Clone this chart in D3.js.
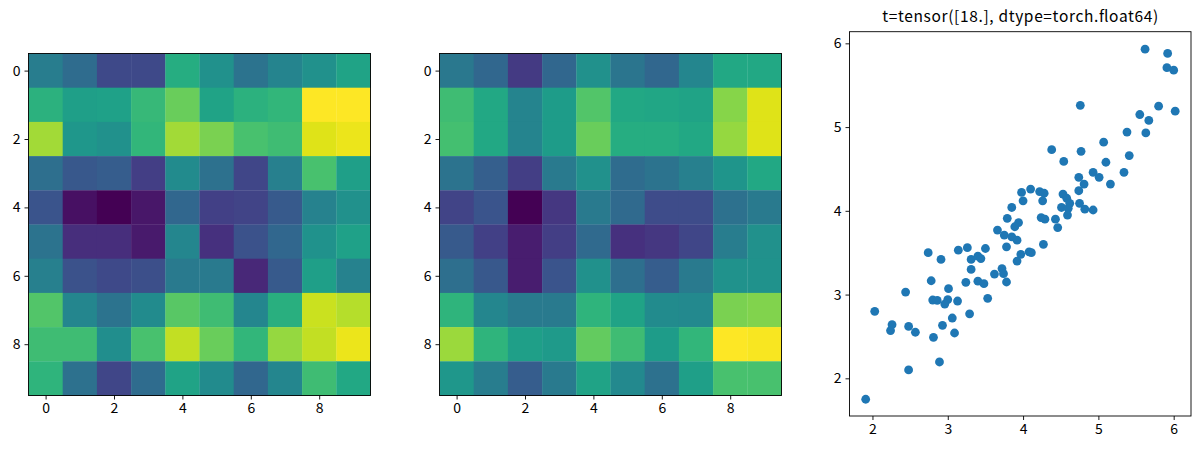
<!DOCTYPE html>
<html>
<head>
<meta charset="utf-8">
<script src="https://cdn.jsdelivr.net/npm/d3@7"></script>
<style>
  body { margin: 0; background: #fff; }
  text { font-family: "Noto Sans CJK JP", "DejaVu Sans", sans-serif; fill: #000; }
</style>
</head>
<body>
<div id="chart"></div>
<script>
// heatmap values (normalised 0..1)
var heatA = [
  [0.42, 0.35, 0.22, 0.22, 0.62, 0.50, 0.38, 0.45, 0.50, 0.58],
  [0.64, 0.56, 0.57, 0.67, 0.77, 0.58, 0.64, 0.66, 1.00, 1.00],
  [0.86, 0.53, 0.50, 0.66, 0.86, 0.80, 0.71, 0.69, 0.95, 0.97],
  [0.36, 0.27, 0.29, 0.18, 0.48, 0.37, 0.21, 0.43, 0.71, 0.56],
  [0.26, 0.04, 0.00, 0.06, 0.33, 0.19, 0.20, 0.28, 0.44, 0.50],
  [0.38, 0.13, 0.13, 0.07, 0.46, 0.14, 0.25, 0.33, 0.51, 0.57],
  [0.43, 0.25, 0.22, 0.24, 0.41, 0.41, 0.11, 0.28, 0.56, 0.44],
  [0.73, 0.46, 0.38, 0.48, 0.74, 0.69, 0.46, 0.63, 0.92, 0.89],
  [0.69, 0.69, 0.49, 0.71, 0.91, 0.77, 0.66, 0.84, 0.91, 0.97],
  [0.65, 0.37, 0.21, 0.35, 0.58, 0.48, 0.33, 0.46, 0.69, 0.60]
];
var heatB = [
  [0.40, 0.33, 0.17, 0.33, 0.50, 0.39, 0.33, 0.46, 0.60, 0.60],
  [0.69, 0.60, 0.45, 0.55, 0.73, 0.60, 0.59, 0.58, 0.82, 0.95],
  [0.70, 0.60, 0.45, 0.55, 0.77, 0.62, 0.62, 0.60, 0.84, 0.95],
  [0.38, 0.30, 0.18, 0.41, 0.50, 0.35, 0.38, 0.43, 0.52, 0.60],
  [0.20, 0.26, 0.00, 0.16, 0.41, 0.34, 0.23, 0.23, 0.37, 0.41],
  [0.28, 0.19, 0.08, 0.18, 0.34, 0.14, 0.16, 0.21, 0.42, 0.50],
  [0.36, 0.27, 0.08, 0.26, 0.50, 0.36, 0.29, 0.41, 0.51, 0.51],
  [0.65, 0.46, 0.41, 0.41, 0.65, 0.58, 0.48, 0.47, 0.80, 0.81],
  [0.85, 0.65, 0.56, 0.54, 0.76, 0.69, 0.55, 0.66, 1.00, 0.99],
  [0.53, 0.42, 0.29, 0.41, 0.58, 0.47, 0.37, 0.56, 0.71, 0.71]
];
var heatTicks = [0, 2, 4, 6, 8];

// scatter points
var xs = [5.62, 5.92, 5.91, 6.00, 4.76, 5.80, 6.02, 5.55, 5.67, 5.38,
          5.63, 5.07, 4.38, 4.77, 5.41, 4.54, 5.10, 5.34, 4.93, 4.74,
          5.01, 4.81, 5.16, 4.74, 3.98, 4.10, 4.22, 4.28, 4.26, 4.00,
          4.53, 4.58, 4.62, 4.75, 4.51, 4.60, 4.82, 4.93, 3.85, 4.59,
          3.79, 4.24, 4.29, 4.43, 4.46, 3.94, 3.89, 3.66, 3.75, 3.85,
          3.92, 4.27, 4.08, 4.11, 3.97, 3.92, 3.78, 3.50, 3.26, 3.14,
          2.74, 2.91, 3.31, 3.40, 3.44, 3.31, 3.72, 3.62, 3.74, 3.78,
          2.78, 3.24, 3.40, 3.48, 2.44, 3.01, 2.80, 2.86, 3.00, 2.96,
          3.13, 3.53, 3.29, 3.06, 2.03, 2.26, 2.24, 2.48, 2.57, 2.81,
          2.93, 3.09, 2.48, 2.89, 1.91];
var ys = [5.93, 5.88, 5.71, 5.68, 5.26, 5.25, 5.19, 5.15, 5.08, 4.94,
          4.93, 4.82, 4.73, 4.71, 4.66, 4.59, 4.58, 4.46, 4.46, 4.40,
          4.40, 4.32, 4.32, 4.24, 4.22, 4.26, 4.23, 4.21, 4.12, 4.12,
          4.20, 4.15, 4.09, 4.09, 4.04, 4.03, 4.02, 4.01, 4.04, 3.95,
          3.91, 3.92, 3.90, 3.90, 3.80, 3.86, 3.81, 3.77, 3.71, 3.69,
          3.65, 3.60, 3.51, 3.50, 3.48, 3.40, 3.57, 3.55, 3.56, 3.53,
          3.50, 3.42, 3.42, 3.46, 3.43, 3.30, 3.31, 3.245, 3.25, 3.15,
          3.165, 3.146, 3.16, 3.13, 3.03, 3.07, 2.935, 2.93, 2.94, 2.887,
          2.923, 2.955, 2.77, 2.72, 2.80, 2.64, 2.57, 2.62, 2.55, 2.49,
          2.633, 2.541, 2.10, 2.195, 1.75];
var scatterXTicks = [2, 3, 4, 5, 6];
var scatterYTicks = [2, 3, 4, 5, 6];
var title = "t=tensor([18.], dtype=torch.float64)";

var width = 1200, height = 449;
var svg = d3.select("#chart").append("svg")
    .attr("width", width)
    .attr("height", height);

function styleAxis(g) {
  g.select(".domain").remove();
  g.selectAll(".tick line").attr("stroke", "#000").attr("stroke-width", 0.9);
  g.selectAll(".tick text").attr("font-size", 14).attr("fill", "#222")
    .style("font-family", '"Noto Sans CJK JP", "DejaVu Sans", sans-serif');
}

function drawHeat(data, left, top, size) {
  var x = d3.scaleLinear().domain([-0.5, 9.5]).range([left, left + size]);
  var y = d3.scaleLinear().domain([-0.5, 9.5]).range([top, top + size]);
  var all = data.flat();
  var color = d3.scaleSequential(d3.interpolateViridis).domain(d3.extent(all));

  var cells = [];
  data.forEach((row, i) => row.forEach((v, j) => cells.push({ r: i, c: j, v: v })));

  svg.append("g").selectAll("rect")
    .data(cells)
    .enter()
      .append("rect")
      .attr("x", d => x(d.c - 0.5))
      .attr("y", d => y(d.r - 0.5))
      .attr("width", d => x(d.c + 0.5) - x(d.c - 0.5) + 0.3)
      .attr("height", d => y(d.r + 0.5) - y(d.r - 0.5) + 0.3)
      .attr("fill", d => color(d.v));

  svg.append("g")
    .attr("transform", "translate(0," + (top + size) + ")")
    .call(d3.axisBottom(x).tickValues(heatTicks).tickSize(4).tickPadding(4))
    .call(styleAxis);
  svg.append("g")
    .attr("transform", "translate(" + left + ",0)")
    .call(d3.axisLeft(y).tickValues(heatTicks).tickSize(4).tickPadding(4))
    .call(styleAxis);

  svg.append("rect")
    .attr("x", left).attr("y", top)
    .attr("width", size).attr("height", size)
    .attr("fill", "none").attr("stroke", "#000").attr("stroke-width", 0.9);
}

drawHeat(heatA, 28.5, 53.5, 342);
drawHeat(heatB, 439.5, 53.5, 342);

// Scatter panel
var sp = { left: 849.5, right: 1191, top: 31.7, bottom: 416 };
var sx = d3.scaleLinear().domain([1.695, 6.23]).range([sp.left, sp.right]);
var sy = d3.scaleLinear().domain([1.55, 6.139]).range([sp.bottom, sp.top]);

svg.append("g").selectAll("circle")
  .data(xs.map((v, i) => [v, ys[i]]))
  .enter()
    .append("circle")
    .attr("cx", d => sx(d[0]))
    .attr("cy", d => sy(d[1]))
    .attr("r", 4.4)
    .attr("fill", "#1f77b4");

svg.append("g")
  .attr("transform", "translate(0," + sp.bottom + ")")
  .call(d3.axisBottom(sx).tickValues(scatterXTicks).tickFormat(d3.format("d")).tickSize(4).tickPadding(4))
  .call(styleAxis);
svg.append("g")
  .attr("transform", "translate(" + sp.left + ",0)")
  .call(d3.axisLeft(sy).tickValues(scatterYTicks).tickFormat(d3.format("d")).tickSize(4).tickPadding(4))
  .call(styleAxis);

svg.append("rect")
  .attr("x", sp.left).attr("y", sp.top)
  .attr("width", sp.right - sp.left).attr("height", sp.bottom - sp.top)
  .attr("fill", "none").attr("stroke", "#000").attr("stroke-width", 0.9);

svg.append("text")
  .attr("x", (sp.left + sp.right) / 2)
  .attr("y", 22)
  .attr("text-anchor", "middle")
  .attr("font-size", 15.5)
  .attr("textLength", 276)
  .attr("lengthAdjust", "spacing")
  .text(title);
</script>
</body>
</html>
